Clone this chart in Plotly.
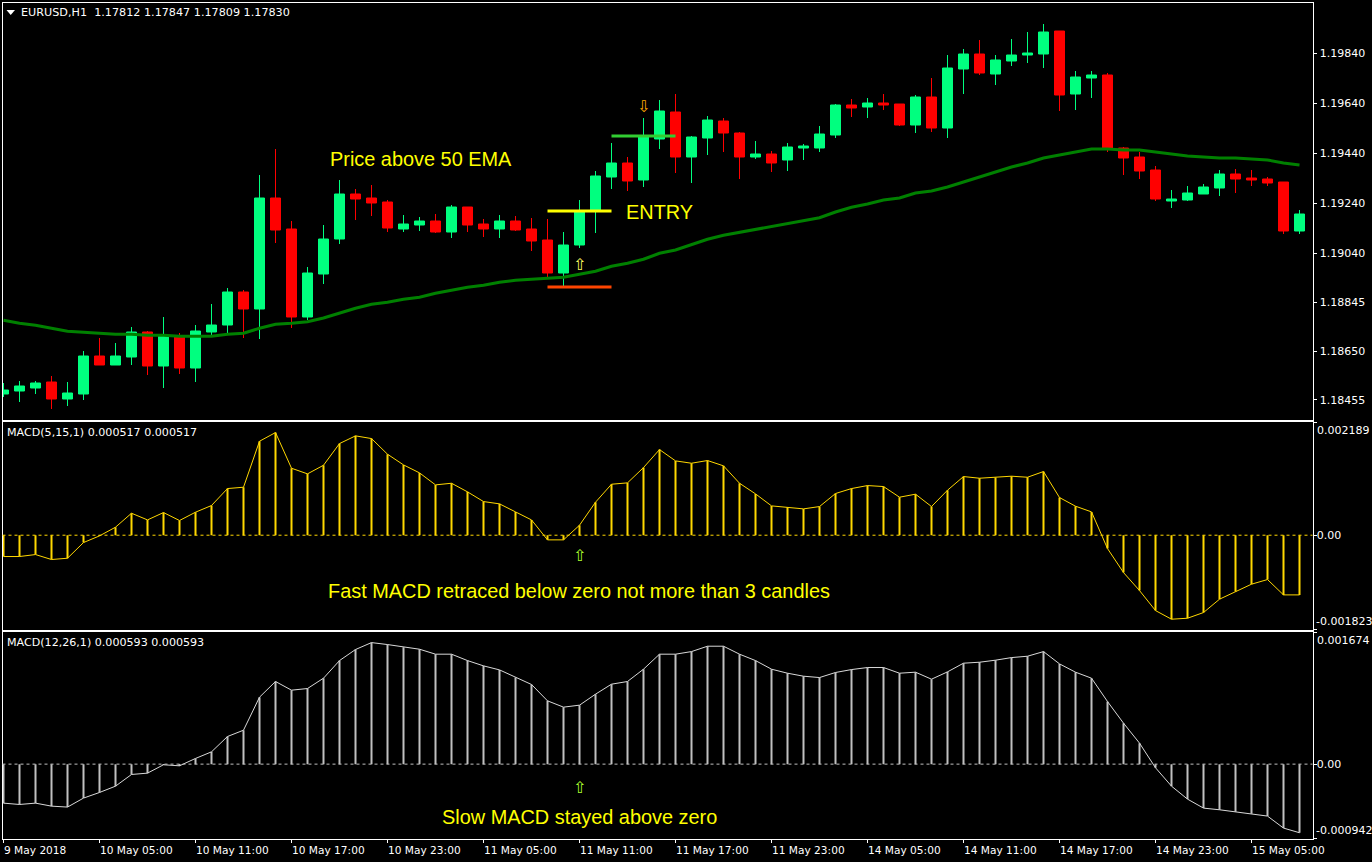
import plotly.graph_objects as go

# ---------- data ----------
opens = [1.18478,1.18490,1.18502,1.18526,1.18458,1.18478,1.18630,1.18594,1.18626,1.18726,1.18590,1.18710,1.18582,1.18726,1.18754,1.18886,1.18818,1.19262,1.19138,1.18786,1.18958,1.19098,1.19278,1.19262,1.19246,1.19138,1.19154,1.19170,1.19126,1.19226,1.19158,1.19138,1.19170,1.19138,1.19094,1.18962,1.19074,1.19210,1.19346,1.19402,1.19334,1.19498,1.19606,1.19426,1.19502,1.19570,1.19522,1.19426,1.19438,1.19414,1.19462,1.19462,1.19514,1.19634,1.19626,1.19642,1.19638,1.19554,1.19666,1.19542,1.19778,1.19838,1.19758,1.19810,1.19834,1.19838,1.19930,1.19678,1.19742,1.19754,1.19462,1.19426,1.19374,1.19250,1.19254,1.19278,1.19302,1.19358,1.19342,1.19338,1.19326,1.19130]
highs = [1.18522,1.18530,1.18530,1.18550,1.18526,1.18650,1.18702,1.18682,1.18746,1.18730,1.18786,1.18722,1.18754,1.18838,1.18902,1.18894,1.19354,1.19458,1.19170,1.18986,1.19154,1.19334,1.19298,1.19314,1.19254,1.19194,1.19186,1.19198,1.19234,1.19226,1.19178,1.19194,1.19190,1.19182,1.19178,1.19126,1.19254,1.19370,1.19482,1.19426,1.19582,1.19654,1.19678,1.19510,1.19590,1.19582,1.19526,1.19490,1.19450,1.19482,1.19478,1.19550,1.19638,1.19658,1.19662,1.19678,1.19638,1.19674,1.19742,1.19834,1.19858,1.19894,1.19834,1.19898,1.19926,1.19958,1.19930,1.19770,1.19770,1.19762,1.19466,1.19446,1.19390,1.19294,1.19310,1.19318,1.19374,1.19378,1.19374,1.19346,1.19326,1.19214]
lows = [1.18466,1.18446,1.18478,1.18418,1.18430,1.18454,1.18594,1.18594,1.18594,1.18554,1.18502,1.18558,1.18526,1.18714,1.18722,1.18702,1.18698,1.19082,1.18742,1.18774,1.18918,1.19078,1.19174,1.19190,1.19126,1.19126,1.19130,1.19122,1.19102,1.19126,1.19106,1.19102,1.19130,1.19050,1.18946,1.18910,1.19062,1.19122,1.19298,1.19290,1.19306,1.19458,1.19362,1.19322,1.19434,1.19446,1.19338,1.19418,1.19366,1.19370,1.19414,1.19446,1.19502,1.19586,1.19582,1.19614,1.19550,1.19522,1.19526,1.19502,1.19678,1.19754,1.19714,1.19790,1.19802,1.19782,1.19610,1.19614,1.19662,1.19446,1.19354,1.19338,1.19250,1.19222,1.19250,1.19278,1.19270,1.19282,1.19310,1.19310,1.19118,1.19118]
closes = [1.18494,1.18510,1.18522,1.18458,1.18482,1.18630,1.18594,1.18630,1.18726,1.18590,1.18710,1.18582,1.18730,1.18754,1.18886,1.18818,1.19262,1.19134,1.18786,1.18962,1.19098,1.19278,1.19258,1.19242,1.19142,1.19158,1.19170,1.19126,1.19226,1.19154,1.19138,1.19170,1.19134,1.19090,1.18962,1.19074,1.19210,1.19350,1.19402,1.19330,1.19510,1.19610,1.19426,1.19506,1.19574,1.19522,1.19426,1.19438,1.19402,1.19466,1.19470,1.19518,1.19634,1.19622,1.19642,1.19634,1.19554,1.19666,1.19542,1.19782,1.19838,1.19762,1.19814,1.19834,1.19842,1.19926,1.19674,1.19746,1.19754,1.19462,1.19422,1.19370,1.19258,1.19258,1.19282,1.19306,1.19358,1.19338,1.19334,1.19322,1.19130,1.19198]
ema50 = [1.18773,1.18761,1.18753,1.18741,1.18729,1.18725,1.18721,1.18717,1.18717,1.18713,1.18713,1.18709,1.18709,1.18709,1.18717,1.18721,1.18741,1.18757,1.18761,1.18767,1.18782,1.18802,1.18821,1.18837,1.18845,1.18857,1.18865,1.18881,1.18893,1.18905,1.18913,1.18925,1.18933,1.18937,1.18941,1.18945,1.18957,1.18969,1.18989,1.19001,1.19017,1.19041,1.19054,1.19075,1.19097,1.19113,1.19125,1.19137,1.19149,1.19161,1.19173,1.19183,1.19206,1.19225,1.19238,1.19254,1.19262,1.19282,1.19290,1.19306,1.19326,1.19346,1.19366,1.19386,1.19402,1.19422,1.19434,1.19446,1.19458,1.19458,1.19454,1.19454,1.19446,1.19438,1.19430,1.19426,1.19422,1.19422,1.19418,1.19414,1.19402,1.19394]
fast_macd = [-0.000412,-0.000412,-0.000374,-0.000470,-0.000445,-0.000142,-0.000013,0.000155,0.000425,0.000296,0.000438,0.000284,0.000445,0.000574,0.000902,0.000928,0.001817,0.001985,0.001295,0.001186,0.001353,0.001772,0.001921,0.001869,0.001566,0.001360,0.001205,0.000973,0.001005,0.000838,0.000651,0.000606,0.000451,0.000296,-0.000090,-0.000090,0.000193,0.000638,0.000986,0.001012,0.001308,0.001656,0.001437,0.001392,0.001444,0.001341,0.001005,0.000799,0.000567,0.000541,0.000509,0.000554,0.000806,0.000902,0.000960,0.000941,0.000735,0.000793,0.000554,0.000870,0.001134,0.001102,0.001115,0.001141,0.001121,0.001231,0.000728,0.000561,0.000451,-0.000258,-0.000722,-0.001070,-0.001457,-0.001624,-0.001605,-0.001495,-0.001237,-0.001089,-0.000947,-0.000857,-0.001154,-0.001154]
slow_macd = [-0.000494,-0.000511,-0.000494,-0.000532,-0.000544,-0.000430,-0.000359,-0.000279,-0.000131,-0.000114,-0.000008,-0.000021,0.000072,0.000156,0.000350,0.000430,0.000848,0.001047,0.000937,0.000958,0.001089,0.001312,0.001452,0.001540,0.001515,0.001481,0.001456,0.001393,0.001393,0.001312,0.001245,0.001194,0.001097,0.001009,0.000802,0.000722,0.000747,0.000886,0.001013,0.001047,0.001203,0.001393,0.001393,0.001426,0.001494,0.001494,0.001393,0.001312,0.001203,0.001152,0.001114,0.001097,0.001161,0.001198,0.001224,0.001224,0.001152,0.001165,0.001076,0.001169,0.001279,0.001291,0.001317,0.001350,0.001367,0.001426,0.001270,0.001165,0.001089,0.000793,0.000519,0.000266,-0.000046,-0.000279,-0.000443,-0.000557,-0.000578,-0.000603,-0.000629,-0.000658,-0.000810,-0.000869]

bar_index = list(range(len(closes)))

price_ticks = [1.19840, 1.19640, 1.19440, 1.19240, 1.19040, 1.18845, 1.18650, 1.18455]
price_tick_labels = ["1.19840", "1.19640", "1.19440", "1.19240", "1.19040", "1.18845", "1.18650", "1.18455"]
time_ticks = [0, 6, 12, 18, 24, 30, 36, 42, 48, 54, 60, 66, 72, 78]
time_labels = ["9 May 2018", "10 May 05:00", "10 May 11:00", "10 May 17:00", "10 May 23:00",
               "11 May 05:00", "11 May 11:00", "11 May 17:00", "11 May 23:00", "14 May 05:00",
               "14 May 11:00", "14 May 17:00", "14 May 23:00", "15 May 05:00"]

entry_x, entry_y = [34, 38], [1.19210, 1.19210]
stop_x, stop_y = [34, 38], [1.18906, 1.18906]
target_x, target_y = [38, 42], [1.19510, 1.19510]

fast_ticks = [-0.001823, 0.0, 0.002189]
slow_ticks = [-0.000942, 0.0, 0.001674]

# ---------- style ----------
W, H = 1372, 862
BULL, BEAR = "#00FF7F", "#FF0000"
GOLD, SILVER = "#FFD700", "#C0C0C0"
TXT = "#FFFFFF"
SMALL = "DejaVu Sans"
BIG = "Liberation Sans"
XRANGE = [-0.0625, 81.8125]


def fx(p):
    return p / W


def fy(p):
    return 1 - p / H


fig = go.Figure()

fig.add_trace(go.Candlestick(
    x=bar_index, open=opens, high=highs, low=lows, close=closes,
    increasing=dict(line=dict(color=BULL, width=1), fillcolor=BULL),
    decreasing=dict(line=dict(color=BEAR, width=1), fillcolor=BEAR),
    whiskerwidth=0, xaxis="x", yaxis="y", showlegend=False))
fig.add_trace(go.Scatter(x=bar_index, y=ema50, mode="lines", line=dict(color="#008000", width=3),
                         xaxis="x", yaxis="y", showlegend=False))
for xs, ys, col in [(entry_x, entry_y, "#FFFF00"), (stop_x, stop_y, "#FF4500"), (target_x, target_y, "#32CD32")]:
    fig.add_trace(go.Scatter(x=xs, y=ys, mode="lines", line=dict(color=col, width=3),
                             xaxis="x", yaxis="y", showlegend=False))

for values, col, lcol, xa, ya in [(fast_macd, GOLD, GOLD, "x2", "y2"), (slow_macd, SILVER, "#D8D8D8", "x3", "y3")]:
    fig.add_trace(go.Bar(x=bar_index, y=values, width=0.125, marker=dict(color=col, line=dict(width=0)),
                         xaxis=xa, yaxis=ya, showlegend=False))
    fig.add_trace(go.Scatter(x=bar_index, y=values, mode="lines", line=dict(color=lcol, width=1),
                             xaxis=xa, yaxis=ya, showlegend=False))

frame = dict(showline=True, linecolor="#FFFFFF", linewidth=1, mirror=True, showgrid=False, zeroline=False)
x_common = dict(range=XRANGE, domain=[fx(2.5), fx(1312.5)], rangeslider=dict(visible=False), **frame)
y_common = dict(side="right", ticks="outside", ticklen=3, tickcolor="#FFFFFF",
                tickfont=dict(family=SMALL, size=11, color=TXT), **frame)

fig.update_layout(
    width=W, height=H, margin=dict(l=0, r=0, t=0, b=0, pad=0),
    paper_bgcolor="#000000", plot_bgcolor="#000000", showlegend=False, barmode="overlay",
    boxgap=0.375, boxgroupgap=0, hovermode=False,
    xaxis=dict(anchor="y", showticklabels=False, ticks="", **x_common),
    xaxis2=dict(anchor="y2", showticklabels=False, ticks="", **x_common),
    xaxis3=dict(anchor="y3", showticklabels=False, ticks="outside", ticklen=3, tickcolor="#FFFFFF",
                tickmode="array", tickvals=time_ticks, **x_common),
    yaxis=dict(anchor="x", domain=[fy(419.5), fy(2.5)], range=[1.18376, 1.20044], tickmode="array",
               tickvals=price_ticks, ticktext=price_tick_labels, ticklabelstandoff=1, **y_common),
    yaxis2=dict(anchor="x2", domain=[fy(629.5), fy(422)], range=[fast_ticks[0], fast_ticks[2]], tickmode="array",
                tickvals=fast_ticks, ticktext=["", "0.00", ""], ticklabelstandoff=-2, **y_common),
    yaxis3=dict(anchor="x3", domain=[fy(838.5), fy(632)], range=[slow_ticks[0], slow_ticks[2]], tickmode="array",
                tickvals=slow_ticks, ticktext=["", "0.00", ""], ticklabelstandoff=-2, **y_common),
)

# dashed zero lines
for xr, yr, col in [("x2 domain", "y2", GOLD), ("x3 domain", "y3", SILVER)]:
    fig.add_shape(type="line", xref=xr, yref=yr, x0=0, x1=1, y0=0, y1=0,
                  line=dict(color=col, width=1, dash="3px,3px"), layer="above")

# header triangle
fig.add_shape(type="path", xref="paper", yref="paper",
              path=f"M {fx(6.5)} {fy(10)} L {fx(15)} {fy(10)} L {fx(10.7)} {fy(15)} Z",
              fillcolor="#FFFFFF", line=dict(width=0))


def label(text, px, py, size=11, family=SMALL, color=TXT, anchor="left"):
    fig.add_annotation(text=text, xref="paper", yref="paper", x=fx(px), y=fy(py), xanchor=anchor, yanchor="middle",
                       showarrow=False, font=dict(family=family, size=size, color=color), borderpad=0, borderwidth=0)


label("EURUSD,H1  1.17812 1.17847 1.17809 1.17830", 21, 13, size=11.2)
label("MACD(5,15,1) 0.000517 0.000517", 7, 432.5, size=11.1)
label("MACD(12,26,1) 0.000593 0.000593", 7, 642.5, size=11.1)

label("Price above 50 EMA", 329.5, 159, size=19.9, family=BIG, color="#FFFF00")
label("ENTRY", 626, 212, size=19.9, family=BIG, color="#FFFF00")
label("Fast MACD retraced below zero not more than 3 candles", 328, 590.5, size=19.9, family=BIG, color="#FFFF00")
label("Slow MACD stayed above zero", 442, 816.5, size=19.9, family=BIG, color="#FFFF00")

label("0.002189", 1316.5, 430.5)
label("-0.001823", 1316, 621.5)
label("0.001674", 1316.5, 640.5)
label("-0.000942", 1316, 830.5)

for txt, t in zip(time_labels, time_ticks):
    fig.add_annotation(text=txt, xref="x3", yref="paper", x=t, y=fy(849.5), xanchor="left", yanchor="middle",
                       xshift=-1, showarrow=False, font=dict(family=SMALL, size=10.6, color=TXT), borderpad=0)

# arrows
for txt, xa, ya, xv, yv, col in [("⇧", "x", "y", 36, 1.18996, "#FFFF66"), ("⇩", "x", "y", 40, 1.19630, "#FFA500"),
                                  ("⇧", "x2", "y2", 36, -0.000400, "#ADFF2F"), ("⇧", "x3", "y3", 36, -0.000300, "#ADFF2F")]:
    fig.add_annotation(text=txt, xref=xa, yref=ya, x=xv, y=yv, showarrow=False,
                       font=dict(family=SMALL, size=16, color=col), borderpad=0)

fig.write_html("out.html", config={"displayModeBar": False},
               post_script="document.body.style.margin='0';document.body.style.background='#000';document.body.style.overflow='hidden';")
